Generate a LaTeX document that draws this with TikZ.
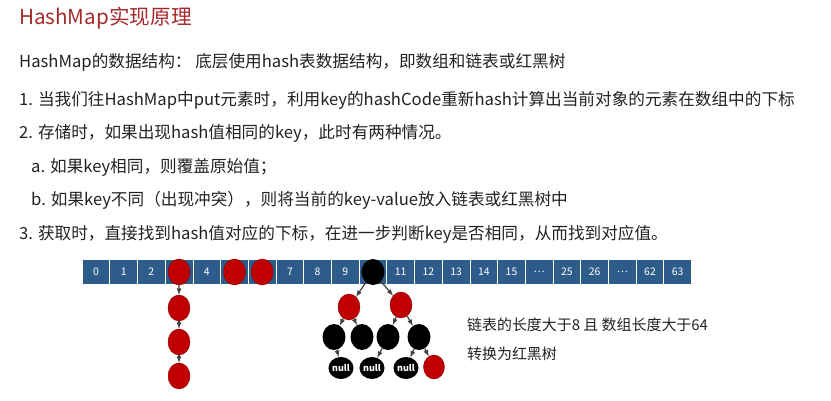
\documentclass[tikz,border=0pt]{standalone}
\usepackage{fontspec}
\setmainfont{Noto Sans CJK SC}
\begin{document}
\begin{tikzpicture}[x=1bp,y=-1bp,
  cell/.style={draw=white,line width=0.8bp,fill=cellblue,minimum width=27.7bp,minimum height=25bp,inner sep=0,text=white,font=\fontsize{10.5}{10.5}\selectfont},
  rn/.style={ellipse,fill=nodered,draw=nodered!70!black,minimum width=22bp,minimum height=26bp,inner sep=0},
  bn/.style={ellipse,fill=black,minimum width=23bp,minimum height=26bp,inner sep=0,text=white,font=\fontsize{8}{8}\selectfont\bfseries},
  nn/.style={ellipse,fill=black,minimum width=22bp,minimum height=22bp,inner sep=0,text=white,font=\fontsize{9}{9}\selectfont\bfseries},
  ar/.style={-latex,draw=darkgray,line width=1.2bp},
  txt/.style={anchor=west,inner sep=0,text=textgray,font=\fontsize{16.7}{18}\selectfont}]
\definecolor{cellblue}{HTML}{2E5C8A}
\definecolor{nodered}{HTML}{C00000}
\definecolor{textgray}{HTML}{222222}
\definecolor{titlered}{HTML}{A52A2A}
\usetikzlibrary{shapes.geometric}
\useasboundingbox (0,0) rectangle (831,400);
\node[anchor=west,inner sep=0,text=titlered,font=\fontsize{20.7}{22}\selectfont] (title) at (19,18) {HashMap实现原理};
\node[txt] (l1) at (19,62) {HashMap的数据结构：\ 底层使用hash表数据结构，即数组和链表或红黑树};
\node[txt] (l2) at (19,100) {1. 当我们往HashMap中put元素时，利用key的hashCode重新hash计算出当前对象的元素在数组中的下标};
\node[txt] (l3) at (19,133) {2. 存储时，如果出现hash值相同的key，此时有两种情况。};
\node[txt] (l4) at (31,167) {a. 如果key相同，则覆盖原始值；};
\node[txt] (l5) at (31,200) {b. 如果key不同（出现冲突），则将当前的key-value放入链表或红黑树中};
\node[txt] (l6) at (19,234) {3. 获取时，直接找到hash值对应的下标，在进一步判断key是否相同，从而找到对应值。};
\foreach \t [count=\i from 0] in {0,1,2,{},4,{},{},7,8,9,{},11,12,13,14,15,{…},25,26,{…},62,63}
  \node[cell] (c\i) at (96+27.7*\i,272) {\t};
\node[rn] (a0) at (c3) {};
\node[rn] (a5) at (c5) {};
\node[rn] (a6) at (c6) {};
\node[bn] (r) at (c10) {};
\node[rn] (k1) at (179,308) {};
\node[rn] (k2) at (179,342) {};
\node[rn] (k3) at (179,376) {};
\draw[ar] (a0) -- (k1);
\draw[ar] (k1) -- (k2);
\draw[ar] (k2) -- (k3);
\node[rn] (t1) at (349,307) {};
\node[rn] (t2) at (401,305) {};
\node[bn] (u1) at (334,337) {};
\node[bn] (u2) at (362,337) {};
\node[bn] (u3) at (388,337) {};
\node[bn] (u4) at (419,337) {};
\node[nn] (v1) at (341,368) {null};
\node[nn] (v2) at (372,368) {null};
\node[nn] (v3) at (406,368) {null};
\node[rn,minimum width=21bp,minimum height=24bp] (v4) at (434,367) {};
\draw[ar] (r) -- (t1);
\draw[ar] (r) -- (t2);
\draw[ar] (t1) -- (u1);
\draw[ar] (t1) -- (u2);
\draw[ar] (t2) -- (u3);
\draw[ar] (t2) -- (u4);
\draw[ar] (u1) -- (v1);
\draw[ar] (u3) -- (v2);
\draw[ar] (u4) -- (v3);
\draw[ar] (u4) -- (v4);
\node[txt,font=\fontsize{15}{16}\selectfont] (n1) at (467,325) {链表的长度大于8 且 数组长度大于64};
\node[txt,font=\fontsize{15}{16}\selectfont] (n2) at (467,354) {转换为红黑树};
\end{tikzpicture}
\end{document}
